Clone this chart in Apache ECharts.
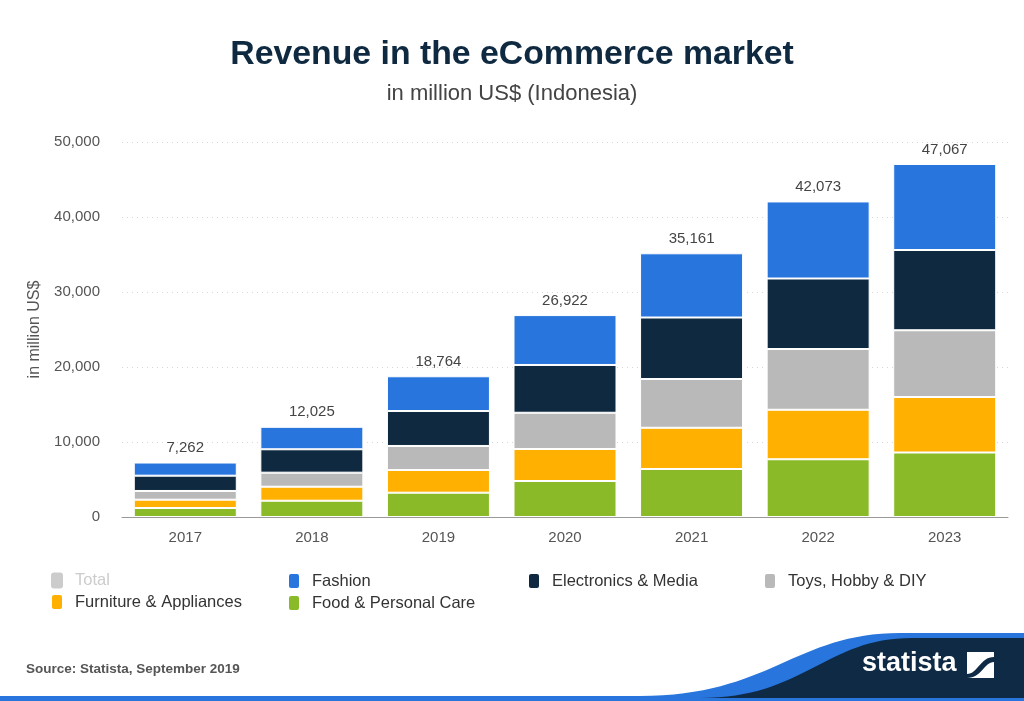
<!DOCTYPE html>
<html><head><meta charset="utf-8">
<script src="https://cdn.jsdelivr.net/npm/echarts@6/dist/echarts.min.js"></script>
<style>html,body{margin:0;padding:0;background:#fff}#c{width:1024px;height:701px}</style>
</head><body><div id="c"></div>
<script>
const years = ['2017','2018','2019','2020','2021','2022','2023'];
const totals = [7262, 12025, 18764, 26922, 35161, 42073, 47067];
const food = [1200, 2170, 3240, 4800, 6400, 7700, 8600];
const furniture = [1110, 1870, 3030, 4270, 5500, 6600, 7400];
const toys = [1160, 1870, 3200, 4830, 6500, 8100, 8900];
const electronics = [2040, 3120, 4660, 6370, 8200, 9400, 10700];
const fashion = [1752, 2995, 4634, 6652, 8561, 10273, 11467];
const yTicks = [0, 10000, 20000, 30000, 40000, 50000];

const FONT = '"Liberation Sans", Arial, sans-serif';
const C = {total:'#cccccc', fashion:'#2876dd', elec:'#0f2a40', toys:'#b9b9b9', furn:'#ffb000', food:'#8aba27'};
const fmt = v => Math.round(v).toLocaleString('en-US');

echarts.graphic.registerShape('blueWave', echarts.graphic.extendPath(
  'M0,696 L640,696 C770,696 795,633 900,633 L1024,633 L1024,701 L0,701 Z', {}));
echarts.graphic.registerShape('navyWave', echarts.graphic.extendPath(
  'M700,698 C805,698 825,638 912,638 L1024,638 L1024,698 Z', {}));
echarts.graphic.registerShape('logoMark', echarts.graphic.extendPath(
  'M967,674 C978,674 980,657 994,657 L994,662 C984,662 982,678 967,678 Z', {}));

const chart = echarts.init(document.getElementById('c'), null, {renderer:'canvas'});
function seg(name, data, color, extra){
  return Object.assign({
    name, type:'bar', stack:'s', data, barWidth:103,
    itemStyle:{color, borderColor:'#fff', borderWidth:1},
    emphasis:{disabled:true}
  }, extra||{});
}
const legendBase = {orient:'vertical', padding:0, itemWidth:12, itemHeight:16, itemGap:4, icon:'roundRect',
  textStyle:{fontFamily:FONT, fontSize:16.5, color:'#333', padding:[0,0,0,7]}, inactiveColor:'#cccccc',
  selected:{'Total':false}, top:572};

chart.setOption({
  animation:false,
  backgroundColor:'#fff',
  title:[
    {text:'Revenue in the eCommerce market', left:'center', top:33,
     textStyle:{fontFamily:FONT, fontSize:33.8, fontWeight:'bold', color:'#0f2a40'}},
    {text:'in million US$ (Indonesia)', left:'center', top:78,
     textStyle:{fontFamily:FONT, fontSize:22, fontWeight:'normal', color:'#444'}}
  ],
  grid:{left:122, right:16, top:142, bottom:184},
  legend:[
    Object.assign({}, legendBase, {left:50, data:['Total','Furniture & Appliances']}),
    Object.assign({}, legendBase, {left:287, data:['Fashion','Food & Personal Care']}),
    Object.assign({}, legendBase, {left:527, data:['Electronics & Media']}),
    Object.assign({}, legendBase, {left:763, data:['Toys, Hobby & DIY']})
  ],
  xAxis:{type:'category', data:years,
    axisLine:{lineStyle:{color:'#999', width:1}}, axisTick:{show:false},
    axisLabel:{fontFamily:FONT, fontSize:15, color:'#555', margin:13}},
  yAxis:{type:'value', min:0, max:50000, interval:10000,
    name:'in million US$', nameLocation:'middle', nameGap:79, nameRotate:90,
    nameTextStyle:{fontFamily:FONT, fontSize:16, color:'#555'},
    axisLine:{show:false}, axisTick:{show:false},
    axisLabel:{fontFamily:FONT, fontSize:15, color:'#555', margin:22,
      formatter:v => yTicks.indexOf(v) >= 0 ? fmt(v) : ''},
    splitLine:{lineStyle:{color:'#d6d6d6', type:[1,4], width:1}}},
  series:[
    {name:'Total', type:'bar', data:totals, barWidth:103, barGap:'-100%', z:1,
     itemStyle:{color:C.total}},
    seg('Food & Personal Care', food, C.food),
    seg('Furniture & Appliances', furniture, C.furn),
    seg('Toys, Hobby & DIY', toys, C.toys),
    seg('Electronics & Media', electronics, C.elec),
    seg('Fashion', fashion, C.fashion, {label:{show:true, position:'top', distance:7,
      fontFamily:FONT, fontSize:15, color:'#444', formatter:p => fmt(totals[p.dataIndex])}})
  ],
  graphic:[
    {type:'text', left:26, top:662, style:{text:'Source: Statista, September 2019',
      font:'bold 13.5px "Liberation Sans", Arial, sans-serif', fill:'#555'}},
    {type:'blueWave', shape:{}, style:{fill:'#2876dd'}},
    {type:'navyWave', shape:{}, style:{fill:'#0e2a45'}},
    {type:'text', left:862, top:650, style:{text:'statista',
      font:'bold 27px "Liberation Sans Narrow", "Liberation Sans", Arial, sans-serif', fill:'#fff'}},
    {type:'rect', shape:{x:967, y:652, width:27, height:26}, style:{fill:'#fff'}},
    {type:'logoMark', shape:{}, style:{fill:'#0e2a45'}}
  ]
});
</script></body></html>
